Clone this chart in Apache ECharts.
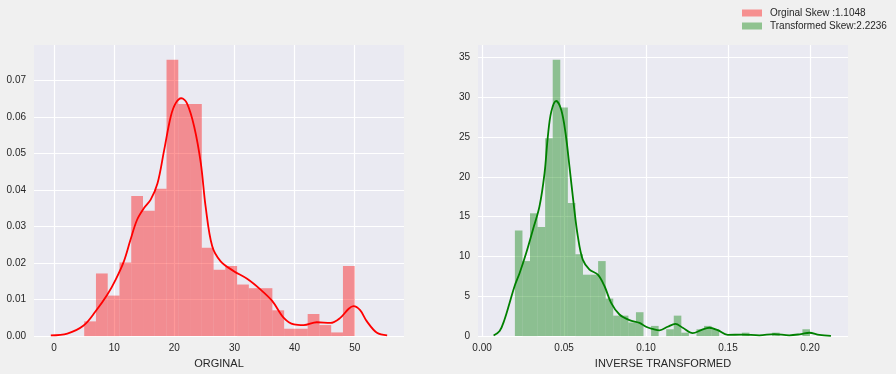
<!DOCTYPE html>
<html>
<head>
<meta charset="utf-8">
<script src="https://cdn.jsdelivr.net/npm/echarts@6/dist/echarts.min.js"></script>
<style>
html,body{margin:0;padding:0;background:#f0f0f0;}
#chart{width:896px;height:374px;}
</style>
</head>
<body>
<div id="chart"></div>
<script>
// ---- Left panel: ORGINAL (density histogram + KDE)
const origEdges = [5, 6.957, 8.913, 10.870, 12.826, 14.783, 16.739, 18.696, 20.652, 22.609, 24.565, 26.522, 28.478, 30.435, 32.391, 34.348, 36.304, 38.261, 40.217, 42.174, 44.130, 46.087, 48.043, 50];
const origDensity = [0.00404, 0.01717, 0.01111, 0.02020, 0.03838, 0.03434, 0.04040, 0.07576, 0.06364, 0.06364, 0.02424, 0.01818, 0.01919, 0.01414, 0.01313, 0.01313, 0.00707, 0.00202, 0.00202, 0.00606, 0.00303, 0.00101, 0.01919];
const origKdeX = [-0.55, 2.2, 4.9, 6.9, 8.86, 10.24, 11.6, 12.7, 13.8, 14.95, 16.06, 17.2, 18.3, 19.4, 20.2, 21.15, 22.1, 23.3, 24.4, 25.2, 26.3, 27.7, 29.9, 32.1, 34.3, 36.3, 38.2, 39.9, 41.5, 43.7, 45.95, 47.6, 49.0, 49.8, 50.9, 52.0, 53.7, 55.4];
const origKdeY = [0.0002, 0.0007, 0.0029, 0.0068, 0.0114, 0.0155, 0.0205, 0.0264, 0.0319, 0.0351, 0.0374, 0.0419, 0.0510, 0.0602, 0.0638, 0.0652, 0.0638, 0.0574, 0.0474, 0.0355, 0.0246, 0.0205, 0.0178, 0.0157, 0.0128, 0.0096, 0.0050, 0.0032, 0.0030, 0.0038, 0.0036, 0.0050, 0.0075, 0.0082, 0.0071, 0.0041, 0.0009, 0.0002];
const origXTicks = [0, 10, 20, 30, 40, 50];
const origYTicks = [0, 0.01, 0.02, 0.03, 0.04, 0.05, 0.06, 0.07];

// ---- Right panel: INVERSE TRANSFORMED
const invEdges = [0.02, 0.02462, 0.02923, 0.03385, 0.03846, 0.04308, 0.04769, 0.05231, 0.05692, 0.06154, 0.06615, 0.07077, 0.07538, 0.08, 0.08462, 0.08923, 0.09385, 0.09846, 0.10308, 0.10769, 0.11231, 0.11692, 0.12154, 0.12615, 0.13077, 0.13538, 0.14, 0.14462, 0.14923, 0.15385, 0.15846, 0.16308, 0.16769, 0.17231, 0.17692, 0.18154, 0.18615, 0.19077, 0.19538, 0.2];
const invDensity = [13.27, 9.42, 15.42, 13.70, 24.84, 34.69, 28.69, 16.70, 10.28, 7.71, 7.71, 9.42, 4.71, 2.57, 2.57, 1.71, 3.00, 0, 1.28, 0, 0.86, 2.57, 0.43, 0, 0.86, 1.28, 0.86, 0, 0, 0, 0.43, 0, 0, 0, 0.43, 0, 0, 0, 0.86];
const invKdeX = [0.0070, 0.0107, 0.0137, 0.0168, 0.0198, 0.0229, 0.0269, 0.0310, 0.0350, 0.0381, 0.0401, 0.0422, 0.0452, 0.0483, 0.0509, 0.0533, 0.0558, 0.0584, 0.0614, 0.0655, 0.0706, 0.0747, 0.0787, 0.0838, 0.0899, 0.0960, 0.1000, 0.1041, 0.1082, 0.1132, 0.1179, 0.1224, 0.1285, 0.1336, 0.1386, 0.1437, 0.1498, 0.1589, 0.1691, 0.1782, 0.1874, 0.1945, 0.1996, 0.2057, 0.2128];
const invKdeY = [0.08, 0.63, 2.09, 4.18, 6.26, 7.93, 10.44, 13.36, 16.28, 20.46, 25.05, 28.18, 29.52, 28.39, 25.47, 21.29, 16.70, 12.53, 9.60, 8.35, 7.72, 6.26, 4.18, 2.71, 2.00, 1.67, 1.17, 0.90, 0.73, 1.17, 1.54, 1.04, 0.38, 0.75, 1.05, 0.75, 0.15, 0.19, 0.10, 0.25, 0.10, 0.25, 0.42, 0.15, 0.04];
const invXTicks = [0, 0.05, 0.10, 0.15, 0.20];
const invYTicks = [0, 5, 10, 15, 20, 25, 30, 35];

const legendNames = ['Orginal Skew :1.1048', 'Transformed Skew:2.2236'];
const xNames = ['ORGINAL', 'INVERSE TRANSFORMED'];

const FONT = '"Liberation Sans", Arial, sans-serif';
const TXT = '#262626';

function histData(edges, vals) {
  const out = [];
  for (let i = 0; i < vals.length; i++) out.push([edges[i], edges[i + 1], vals[i]]);
  return out;
}
function zip(xs, ys) { return xs.map((x, i) => [x, ys[i]]); }

function renderBar(params, api) {
  const h = api.value(2);
  if (!(h > 0)) return null;
  const p0 = api.coord([api.value(0), 0]);
  const p1 = api.coord([api.value(1), h]);
  return {
    type: 'rect',
    shape: { x: p0[0], y: p1[1], width: p1[0] - p0[0], height: p0[1] - p1[1] },
    style: { fill: api.visual('color') }
  };
}

function xAxisCfg(idx, min, max, ticks, name, fmt) {
  return {
    type: 'value', gridIndex: idx, min: min, max: max,
    name: name, nameLocation: 'middle', nameGap: 18,
    nameTextStyle: { fontFamily: FONT, fontSize: 11, color: TXT },
    axisLine: { show: false },
    axisTick: { show: false, customValues: ticks },
    axisLabel: { customValues: ticks, fontFamily: FONT, fontSize: 10, color: TXT, margin: 7, formatter: fmt },
    splitLine: { show: true, lineStyle: { color: '#ffffff', width: 1.2 } }
  };
}
function yAxisCfg(idx, min, max, ticks, fmt) {
  return {
    type: 'value', gridIndex: idx, min: min, max: max,
    axisLine: { show: false },
    axisTick: { show: false, customValues: ticks },
    axisLabel: { customValues: ticks, fontFamily: FONT, fontSize: 10, color: TXT, margin: 8, formatter: fmt },
    splitLine: { show: true, lineStyle: { color: '#ffffff', width: 1.2 } }
  };
}

const chart = echarts.init(document.getElementById('chart'), null, { renderer: 'canvas' });
chart.setOption({
  backgroundColor: '#f0f0f0',
  animation: false,
  legend: {
    data: legendNames,
    orient: 'vertical', left: 742, top: 8, padding: 0,
    itemWidth: 20, itemHeight: 7, itemGap: 3,
    icon: 'rect',
    textStyle: { fontFamily: FONT, fontSize: 10, color: TXT, lineHeight: 10, padding: [0, 0, 0, 3] },
    selectedMode: false
  },
  grid: [
    { left: 34, top: 45, width: 370, height: 291.7, backgroundColor: '#eaeaf2', show: true, borderWidth: 0 },
    { left: 478, top: 45, width: 370, height: 291.7, backgroundColor: '#eaeaf2', show: true, borderWidth: 0 }
  ],
  xAxis: [
    xAxisCfg(0, -3.35, 58.2, origXTicks, xNames[0], v => String(Math.round(v))),
    xAxisCfg(1, -0.0025, 0.2232, invXTicks, xNames[1], v => v.toFixed(2))
  ],
  yAxis: [
    yAxisCfg(0, 0, 0.0798, origYTicks, v => v.toFixed(2)),
    yAxisCfg(1, 0, 36.55, invYTicks, v => String(Math.round(v)))
  ],
  series: [
    {
      name: legendNames[0], type: 'custom', xAxisIndex: 0, yAxisIndex: 0,
      renderItem: renderBar, itemStyle: { color: 'rgba(255,0,0,0.4)' },
      encode: { x: [0, 1], y: 2 }, data: histData(origEdges, origDensity), z: 2
    },
    {
      name: 'origKde', type: 'line', xAxisIndex: 0, yAxisIndex: 0,
      data: zip(origKdeX, origKdeY), smooth: 0.35, showSymbol: false, symbol: 'none',
      lineStyle: { color: '#ff0000', width: 1.8 }, itemStyle: { color: '#ff0000' }, z: 3
    },
    {
      name: legendNames[1], type: 'custom', xAxisIndex: 1, yAxisIndex: 1,
      renderItem: renderBar, itemStyle: { color: 'rgba(0,128,0,0.4)' },
      encode: { x: [0, 1], y: 2 }, data: histData(invEdges, invDensity), z: 2
    },
    {
      name: 'invKde', type: 'line', xAxisIndex: 1, yAxisIndex: 1,
      data: zip(invKdeX, invKdeY), smooth: 0.35, showSymbol: false, symbol: 'none',
      lineStyle: { color: '#008000', width: 1.8 }, itemStyle: { color: '#008000' }, z: 3
    }
  ]
});
</script>
</body>
</html>
